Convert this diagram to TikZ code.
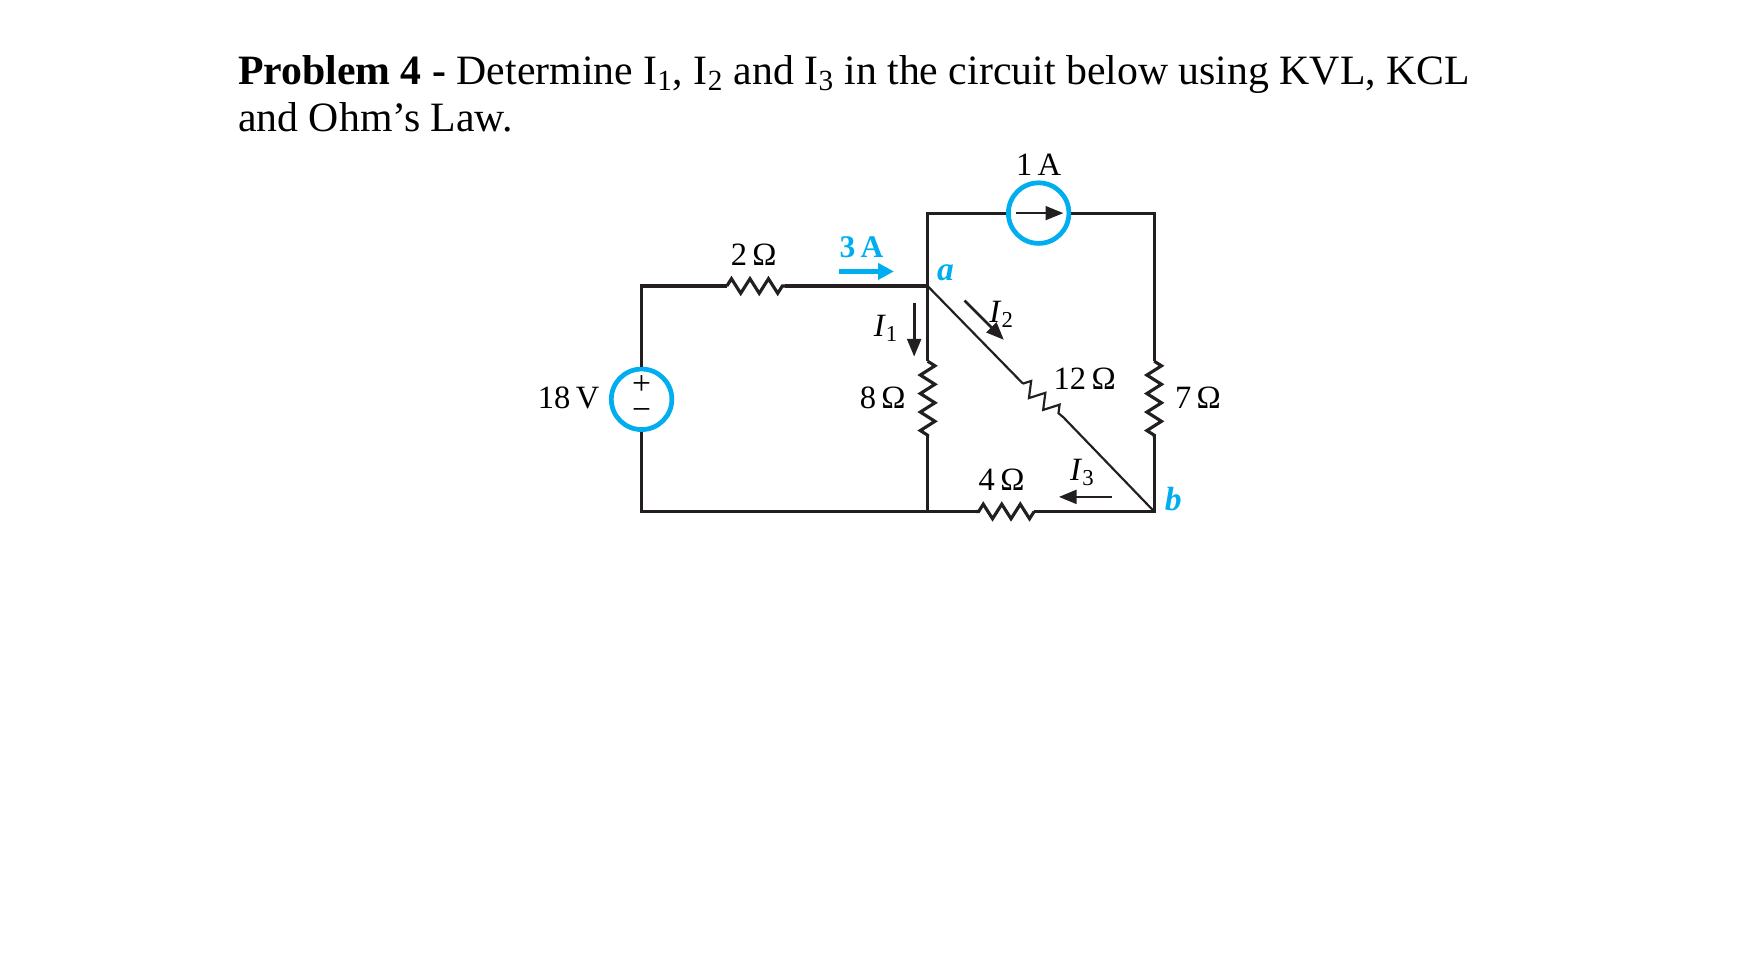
\documentclass[tikz,border=0pt]{standalone}
\usepackage{fontspec}
\setmainfont{Liberation Serif}
\usetikzlibrary{decorations.pathmorphing,arrows.meta}
\definecolor{cblue}{RGB}{0,174,239}
\definecolor{wire}{RGB}{35,31,32}
\begin{document}
\begin{tikzpicture}[x=0.02cm,y=-0.02cm,
  w/.style={draw=wire,line width=1.6pt,line join=miter},
  thin/.style={draw=wire,line width=1.1pt},
  res/.style={decorate,decoration={zigzag,amplitude=0.13cm,segment length=0.33cm}},
  lbl/.style={font=\fontsize{16.5}{16.5}\selectfont,inner sep=0pt},
  src/.style={circle,draw=cblue,line width=2.4pt,minimum size=1.08cm,inner sep=0pt},
  cur/.style={-{Triangle[length=9pt,width=7pt]},draw=wire,line width=1.4pt}]
\useasboundingbox (0,0) rectangle (1570,862);
% title
\node[anchor=base west,inner sep=0pt,font=\fontsize{21.2}{25}\selectfont] (t1) at (212,75)
  {\textbf{Problem 4 -} Determine I\textsubscript{1}, I\textsubscript{2} and I\textsubscript{3} in the circuit below using KVL, KCL};
\node[anchor=base west,inner sep=0pt,font=\fontsize{21.2}{25}\selectfont] (t2) at (212,117) {and Ohm’s Law.};
% coordinates
\coordinate (tl) at (572,255);
\coordinate (bl) at (572,456);
\coordinate (a) at (827,255);
\coordinate (at) at (827,190);
\coordinate (rt) at (1029,190);
\coordinate (b) at (1029,456);
\coordinate (bm) at (827,456);
\coordinate (r2a) at (648,255); \coordinate (r2b) at (700,255);
\coordinate (r8a) at (827,322); \coordinate (r8b) at (827,390);
\coordinate (r7a) at (1029,322); \coordinate (r7b) at (1029,390);
\coordinate (r4a) at (922,456); \coordinate (r4b) at (870,456);
\coordinate (r12a) at (912,342); \coordinate (r12b) at (948,372);
\node[src] (vs) at (572,356) {};
\node[src] (cs) at (926,190) {};
% wires
\draw[w] (vs) -- (tl) -- (r2a);
\draw[w,res] (r2a) -- (r2b);
\draw[w] (r2b) -- (a) -- (at) -- (cs);
\draw[w] (cs) -- (rt) -- (r7a);
\draw[w,res] (r7a) -- (r7b);
\draw[w] (r7b) -- (b) -- (r4a);
\draw[w,res] (r4a) -- (r4b);
\draw[w] (r4b) -- (bm) -- (bl) -- (vs);
\draw[w] (a) -- (r8a);
\draw[w,res] (r8a) -- (r8b);
\draw[w] (r8b) -- (bm);
\draw[thin] (a) -- (r12a);
\draw[thin,res] (r12a) -- (r12b);
\draw[thin] (r12b) -- (b);
% sources
\node[font=\fontsize{17}{17}\selectfont,inner sep=0pt] (plus) at (572,343) {+};
\node[font=\fontsize{17}{17}\selectfont,inner sep=0pt] (minus) at (572,370) {\textminus};
\coordinate (csa) at (906,190); \coordinate (csb) at (948,190);
\draw[cur,line width=1.1pt] (csa) -- (csb);
% current arrows
\coordinate (a3s) at (748,242); \coordinate (a3e) at (797,242);
\draw[-{Triangle[length=8pt,width=8pt]},cblue,line width=2.4pt] (a3s) -- (a3e);
\coordinate (i1s) at (815,270); \coordinate (i1e) at (815,318);
\draw[cur] (i1s) -- (i1e);
\coordinate (i2s) at (860,268); \coordinate (i2e) at (895,303);
\draw[cur] (i2s) -- (i2e);
\coordinate (i3s) at (991,443); \coordinate (i3e) at (944,443);
\draw[cur] (i3s) -- (i3e);
% labels
\node[lbl] (l2) at (672,227) {2\,Ω};
\node[lbl,text=cblue,font=\fontsize{16}{16}\selectfont\bfseries] (l3a) at (768,220) {3\,A};
\node[lbl,text=cblue,font=\fontsize{17}{17}\selectfont\bfseries\itshape] (la) at (843,243) {a};
\node[lbl] (li1) at (790,293) {\textit{I}\textsubscript{1}};
\node[lbl] (li2) at (893,280) {\textit{I}\textsubscript{2}};
\node[lbl] (l8) at (787,355) {8\,Ω};
\node[lbl] (l12) at (967,338) {12\,Ω};
\node[lbl] (l7) at (1068,355) {7\,Ω};
\node[lbl] (l4) at (893,428) {4\,Ω};
\node[lbl] (li3) at (965,421) {\textit{I}\textsubscript{3}};
\node[lbl,text=cblue,font=\fontsize{17}{17}\selectfont\bfseries\itshape] (lb) at (1046,445) {b};
\node[lbl] (l1a) at (926,147) {1\,A};
\node[lbl] (l18) at (507,355) {18\,V};
\end{tikzpicture}
\end{document}
